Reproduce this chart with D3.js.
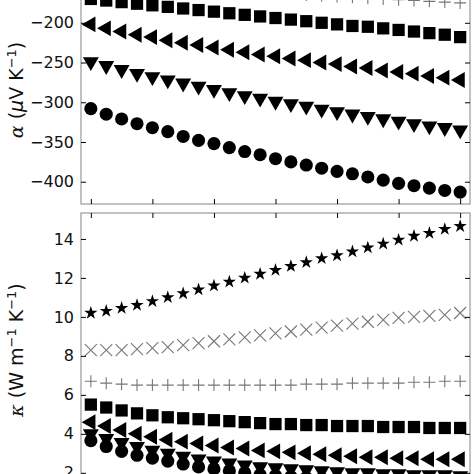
<!DOCTYPE html>
<html><head><meta charset="utf-8">
<script src="https://cdn.jsdelivr.net/npm/d3@7"></script>
<style>body{margin:0;background:#fff}text{font-family:"DejaVu Sans",sans-serif}</style>
</head><body>
<script>
const width = 474, height = 474;
const temps = d3.range(300, 901, 25);
const xTicks = [300, 400, 500, 600, 700, 800, 900];

// Seebeck coefficient (top panel)
const alphaPlus = [-140,-142,-144,-146,-148,-150,-152,-154,-155,-157,-159,-160,-162,-163,-165,-166,-167,-168,-169,-170,-171,-172,-173,-174,-175];
const alphaSquare = [-170,-172,-174,-176,-178,-180,-182,-184,-186,-188,-190,-192,-194,-196,-198,-200,-202,-204,-205,-207,-209,-211,-213,-215,-218];
const alphaLeft = [-202,-207,-211,-215,-218,-222,-225,-228,-231,-234,-237,-240,-242,-245,-247,-250,-252,-255,-257,-260,-262,-264,-267,-269,-272];
const alphaDown = [-249,-254,-259,-264,-268,-272,-276,-280,-284,-288,-292,-295,-299,-302,-305,-309,-312,-315,-318,-321,-324,-327,-330,-332,-335];
const alphaCircle = [-308,-315,-321,-327,-332,-337,-343,-348,-352,-357,-362,-366,-371,-375,-379,-383,-387,-390,-394,-398,-402,-405,-408,-411,-413];
const alphaTicks = [-400, -350, -300, -250, -200];

// thermal conductivity (bottom panel)
const kStar = [10.2,10.3,10.45,10.6,10.8,11.0,11.2,11.4,11.6,11.8,12.0,12.2,12.4,12.6,12.8,13.0,13.15,13.35,13.55,13.75,13.95,14.15,14.3,14.5,14.65];
const kCross = [8.3,8.3,8.3,8.35,8.4,8.45,8.55,8.65,8.75,8.85,8.95,9.05,9.15,9.25,9.35,9.45,9.55,9.65,9.75,9.85,9.95,10.0,10.05,10.1,10.2];
const kPlus = [6.7,6.6,6.55,6.5,6.5,6.5,6.5,6.5,6.5,6.5,6.5,6.5,6.5,6.5,6.55,6.55,6.55,6.6,6.6,6.6,6.6,6.65,6.65,6.7,6.7];
const kSquare = [5.5,5.35,5.2,5.05,4.95,4.85,4.8,4.75,4.7,4.65,4.6,4.55,4.5,4.5,4.45,4.45,4.4,4.4,4.4,4.35,4.35,4.35,4.3,4.3,4.3];
const kLeft = [4.6,4.4,4.2,4.0,3.85,3.7,3.6,3.5,3.4,3.3,3.25,3.15,3.1,3.05,3.0,2.95,2.9,2.85,2.8,2.8,2.75,2.75,2.7,2.7,2.7];
const kDown = [4.0,3.75,3.55,3.35,3.15,3.0,2.85,2.7,2.6,2.5,2.4,2.3,2.25,2.2,2.15,2.1,2.05,2.0,2.0,1.95,1.95,1.9,1.9,1.9,1.85];
const kCircle = [3.65,3.35,3.1,2.9,2.75,2.6,2.45,2.3,2.2,2.1,2.0,1.9,1.85,1.8,1.75,1.7,1.65,1.6,1.6,1.55,1.55,1.5,1.5,1.5,1.45];
const kTicks = [2, 4, 6, 8, 10, 12, 14];

const svg = d3.select("body").append("svg").attr("width", width).attr("height", height);

const left = 81, right = 470;
const x = d3.scaleLinear().domain([284, 916]).range([left, right]);

// marker shapes
const sym = (type, size, rot) => ({ path: d3.symbol(type, size)(), rot: rot || 0 });
const markers = {
  circle: sym(d3.symbolCircle, 135),
  square: sym(d3.symbolSquare, 150),
  left: sym(d3.symbolTriangle, 110, -90),
  down: sym(d3.symbolTriangle, 110, 180),
  star: sym(d3.symbolStar, 55),
  plus: { path: "M-6,0H6M0,-6V6", rot: 0, stroke: true },
  cross: { path: "M-6,-6L6,6M-6,6L6,-6", rot: 0, stroke: true }
};

function panel(top, bottom, domain, ticks, series, label, labelY) {
  const y = d3.scaleLinear().domain(domain).range([bottom, top]);
  const clipId = "c" + top;
  svg.append("clipPath").attr("id", clipId).append("rect")
    .attr("x", left).attr("y", top).attr("width", right - left).attr("height", bottom - top);
  const g = svg.append("g").attr("clip-path", `url(#${clipId})`);
  series.forEach(s => {
    const m = markers[s.m];
    g.selectAll(null).data(s.v).enter().append("path")
      .attr("d", m.path)
      .attr("transform", (d, i) => `translate(${x(temps[i])},${y(d)}) rotate(${m.rot})`)
      .attr("fill", m.stroke ? "none" : "#000")
      .attr("stroke", m.stroke ? "#777" : "none")
      .attr("stroke-width", 1.1);
  });
  // frame
  svg.append("rect").attr("x", left).attr("y", top).attr("width", right - left).attr("height", bottom - top)
    .attr("fill", "none").attr("stroke", "#999").attr("stroke-width", 1.2);
  // inward ticks
  svg.append("g").attr("transform", `translate(${left},0)`)
    .call(d3.axisLeft(y).tickValues(ticks).tickSizeInner(-5).tickSizeOuter(0).tickPadding(7).tickFormat(d => d < 0 ? "\u2212" + (-d) : d))
    .call(a => a.select(".domain").remove())
    .call(a => a.selectAll("text").attr("font-size", 16).attr("fill", "#111"));
  svg.append("g").attr("transform", `translate(${right},0)`)
    .call(d3.axisRight(y).tickValues(ticks).tickSizeInner(-5).tickSizeOuter(0).tickFormat(""))
    .call(a => a.select(".domain").remove());
  svg.append("g").attr("transform", `translate(0,${top})`)
    .call(d3.axisTop(x).tickValues(xTicks).tickSizeInner(-5).tickSizeOuter(0).tickFormat(""))
    .call(a => a.select(".domain").remove());
  svg.append("g").attr("transform", `translate(0,${bottom})`)
    .call(d3.axisBottom(x).tickValues(xTicks).tickSizeInner(-5).tickSizeOuter(0).tickFormat(""))
    .call(a => a.select(".domain").remove());
  svg.append("text").attr("transform", `translate(23,${labelY}) rotate(-90)`)
    .attr("text-anchor", "middle").attr("font-size", 19).attr("fill", "#111").html(label);
}

panel(-40, 204, [-428, -121], alphaTicks, [
  { m: "plus", v: alphaPlus }, { m: "square", v: alphaSquare }, { m: "left", v: alphaLeft },
  { m: "down", v: alphaDown }, { m: "circle", v: alphaCircle }
], '<tspan font-style="italic" font-family="DejaVu Serif">α</tspan> (<tspan font-style="italic">μ</tspan>V K<tspan dy="-7" font-size="13">−1</tspan><tspan dy="7">)</tspan>', 90);

panel(213, 504, [0.4, 15.33], kTicks, [
  { m: "star", v: kStar }, { m: "cross", v: kCross }, { m: "plus", v: kPlus }, { m: "square", v: kSquare },
  { m: "left", v: kLeft }, { m: "down", v: kDown }, { m: "circle", v: kCircle }
], '<tspan font-style="italic" font-family="DejaVu Serif">κ</tspan> (W m<tspan dy="-7" font-size="13">−1</tspan><tspan dy="7"> K</tspan><tspan dy="-7" font-size="13">−1</tspan><tspan dy="7">)</tspan>', 350);
</script>
</body></html>
